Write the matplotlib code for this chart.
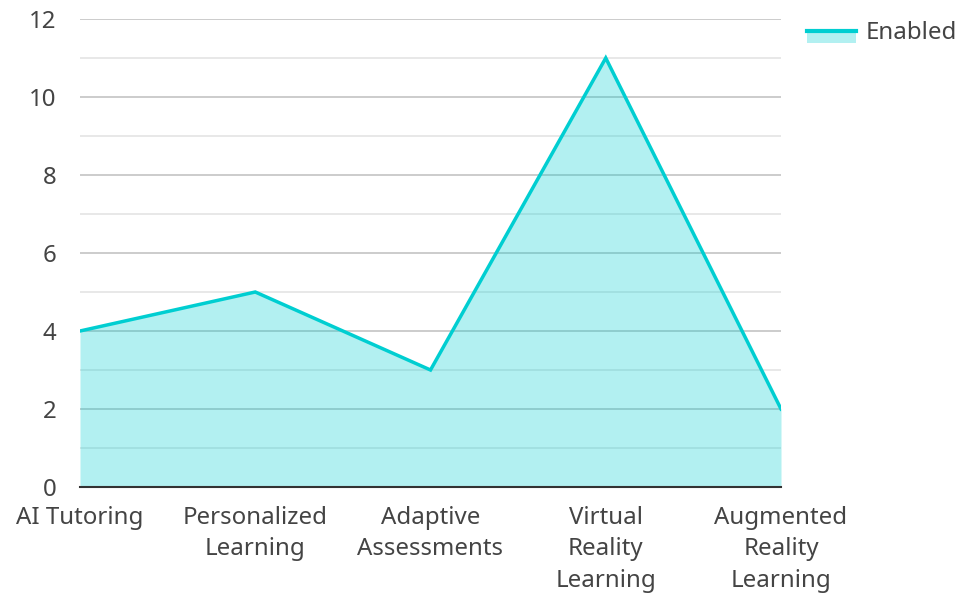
import matplotlib
matplotlib.use("Agg")
import matplotlib.pyplot as plt
from matplotlib.lines import Line2D
from matplotlib.patches import Rectangle

plt.rcParams['font.family'] = ['Noto Sans', 'DejaVu Sans']

categories = ["AI Tutoring", "Personalized\nLearning", "Adaptive\nAssessments",
              "Virtual\nReality\nLearning", "Augmented\nReality\nLearning"]
enabled = [4, 5, 3, 11, 2]
series_name = "Enabled"

line_color = "#00CED1"
text_color = "#444444"

fig = plt.figure(figsize=(9.62, 5.93), dpi=100)
W, H = 962, 593
ax = fig.add_axes([80 / W, 1 - 487 / H, (781 - 80) / W, (487 - 19) / H])

x = list(range(len(categories)))
ax.fill_between(x, enabled, 0, color=line_color, alpha=0.3, lw=0, zorder=3)
ax.plot(x, enabled, color=line_color, lw=2.5, zorder=4, solid_joinstyle="miter")

ax.set_xlim(0, len(categories) - 1)
ax.set_ylim(0, 12)
ax.set_yticks(range(0, 13, 2))
ax.set_yticks(range(1, 13, 2), minor=True)
ax.grid(axis="y", which="major", color="#c4c4c4", lw=1.2, zorder=1)
ax.grid(axis="y", which="minor", color="#e4e4e4", lw=1.2, zorder=1)
ax.set_axisbelow(True)

ax.set_xticks(x)
ax.set_xticklabels(categories, linespacing=1.42)
for s in ["left", "right", "top"]:
    ax.spines[s].set_visible(False)
ax.spines["bottom"].set_color("#333333")
ax.spines["bottom"].set_linewidth(1.5)
ax.spines["bottom"].set_zorder(5)
ax.tick_params(axis="both", which="both", length=0, labelsize=17.3, labelcolor=text_color)
ax.tick_params(axis="y", pad=17)
ax.tick_params(axis="x", pad=13.5)

# legend
fig.add_artist(Rectangle((807 / W, 1 - 43 / H), 49 / W, 13 / H,
                         transform=fig.transFigure, color=line_color, alpha=0.3, lw=0))
fig.add_artist(Line2D([807 / W, 856 / W], [1 - 31 / H, 1 - 31 / H],
                      transform=fig.transFigure, color=line_color, lw=3))
fig.text(866 / W, 1 - 33 / H, series_name, fontsize=17.3, color=text_color, va="center")

fig.savefig("out.png", dpi=100)
